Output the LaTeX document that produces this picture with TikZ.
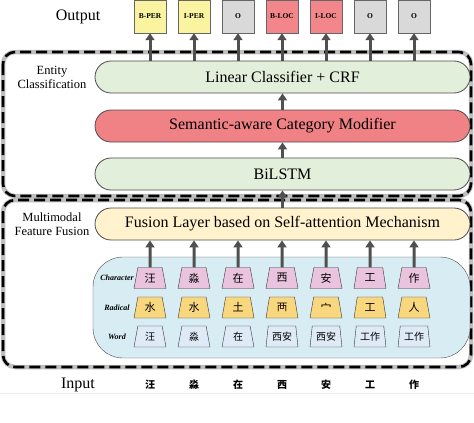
\documentclass[tikz,border=0pt]{standalone}
\usepackage{fontspec}
\setmainfont{Liberation Serif}
\newfontfamily\cjkfont{Noto Sans CJK SC}
\usepackage{tikz}
\usetikzlibrary{shapes.geometric,arrows.meta}

\definecolor{pillgreen}{HTML}{E2EFDA}
\definecolor{pillred}{HTML}{F08286}
\definecolor{pillyellow}{HTML}{FFF2CC}
\definecolor{boxblue}{HTML}{D7ECF3}
\definecolor{charpink}{HTML}{EAC4DF}
\definecolor{radyellow}{HTML}{F9D77E}
\definecolor{wordblue}{HTML}{DEEBF7}
\definecolor{tagyellow}{HTML}{FAF3A0}
\definecolor{taggray}{HTML}{D9D9D9}
\definecolor{tagred}{HTML}{F3868A}
\definecolor{arrgray}{HTML}{505050}

\begin{document}
\begin{tikzpicture}[x=1pt, y=-1pt,
  pill/.style = {draw=black!70, thick, rounded corners=16pt, minimum width=375pt,
    minimum height=32pt, font=\fontsize{16}{18}\selectfont},
  tag/.style = {draw=black!60, minimum width=32pt, minimum height=33pt,
    font=\bfseries\fontsize{7.5}{9}\selectfont},
  trap/.style = {trapezium, trapezium stretches=true, trapezium left angle=80,
    trapezium right angle=80, draw=black!80, minimum width=32pt, minimum height=21pt,
    inner sep=0pt, font=\cjkfont\fontsize{11}{12}\selectfont},
  rowlab/.style = {font=\bfseries\itshape\fontsize{8}{9}\selectfont},
  sidelab/.style = {align=center, font=\fontsize{12.5}{14}\selectfont},
  bigarr/.style = {draw=arrgray, line width=3pt, -{Triangle[width=9pt,length=7pt]}},
  dashbox/.style = {rounded corners=12pt}]
\useasboundingbox (0,0) rectangle (474,423);

% the two dashed blocks
\draw[dashbox, draw=black!25, line width=4.5pt] (3,52) rectangle (471,196);
\draw[dashbox, draw=black, line width=2.6pt, dash pattern=on 11pt off 5pt] (3,52) rectangle (471,196);
\draw[dashbox, draw=black!25, line width=4.5pt] (3,200) rectangle (471,367);
\draw[dashbox, draw=black, line width=2.6pt, dash pattern=on 11pt off 5pt] (3,200) rectangle (471,367);

% side labels
\node[sidelab] (entlab) at (52,77) {Entity\\Classification};
\node[sidelab] (mmlab) at (52,224) {Multimodal\\Feature Fusion};
\node[font=\fontsize{16}{18}\selectfont] (outlab) at (78,17) {Output};
\node[font=\fontsize{16}{18}\selectfont] (inlab) at (78,385) {Input};

% layers
\node[pill, fill=pillgreen] (lin) at (282.5,77) {Linear Classifier + CRF};
\node[pill, fill=pillred] (sem) at (282.5,126) {Semantic-aware Category Modifier};
\node[pill, fill=pillgreen] (bil) at (282.5,174) {BiLSTM};
\node[pill, fill=pillyellow] (fus) at (282.5,224) {Fusion Layer based on Self-attention Mechanism};

% embedding container
\draw[draw=black!70, fill=boxblue, rounded corners=30pt] (93,257) rectangle (470,358);

\node[rowlab] (chlab) at (117,278) {Character};
\node[rowlab] (rdlab) at (117,307.5) {Radical};
\node[rowlab] (wdlab) at (117,336.5) {Word};

% columns: character / radical / word / tag / tag colour
\foreach \c/\r/\w/\t/\tc [count=\i] in
  {汪/水/汪/B-PER/tagyellow, 淼/水/淼/I-PER/tagyellow, 在/土/在/O/taggray,
   西/襾/西安/B-LOC/tagred, 安/宀/西安/I-LOC/tagred, 工/工/工作/O/taggray,
   作/人/工作/O/taggray}{
  \node[tag, fill=\tc] (out\i) at (106+44*\i,16.5) {\t};
  \node[trap, fill=charpink] (ch\i) at (106+44*\i,278) {\c};
  \node[trap, fill=radyellow] (rd\i) at (106+44*\i,307.5) {\r};
  \node[trap, fill=wordblue, font=\cjkfont\fontsize{10}{12}\selectfont] (wd\i) at (106+44*\i,336.5) {\w};
  \node[font=\cjkfont\bfseries\fontsize{10}{12}\selectfont] (in\i) at (106+44*\i,385) {\c};
  \draw[bigarr] (lin.north -| out\i) -- (out\i.south);
  \draw[bigarr] (ch\i.north) -- (fus.south -| ch\i);
}

\draw[bigarr] (sem.north) -- (lin.south);
\draw[bigarr] (bil.north) -- (sem.south);
\draw[bigarr] (fus.north) -- (bil.south);

% caption rule
\draw[black!8, line width=1pt] (0,393) -- (474,393);
\end{tikzpicture}
\end{document}
